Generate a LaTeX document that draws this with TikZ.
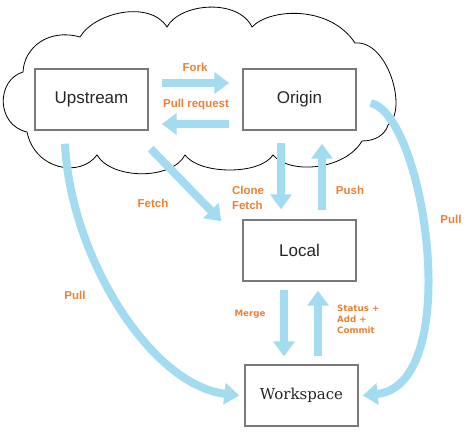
\documentclass[tikz,border=0pt]{standalone}
\usepackage{fontspec}
\setmainfont{Liberation Sans}
\newfontfamily\slabfont{DejaVu Serif}
\newfontfamily\smallfont{DejaVu Sans}
\usepackage{xcolor}
\usetikzlibrary{arrows.meta, positioning}
\definecolor{gitblue}{HTML}{A3DCF0}
\definecolor{gitorange}{HTML}{EE8033}
\definecolor{boxgray}{HTML}{7A7A7A}

\begin{document}
\begin{tikzpicture}[
    x=1pt, y=-1pt,
    repo/.style={draw=boxgray, line width=1.4pt, minimum width=113pt,
                 minimum height=61pt, inner sep=0pt, text=black!85,
                 font=\fontsize{17}{20}\selectfont},
    flow/.style={gitblue, line width=8pt,
                 -{Triangle[width=21pt, length=15pt]}},
    op/.style={text=gitorange, align=left,
               font=\fontsize{11.5}{15.5}\selectfont\bfseries},
    small op/.style={text=gitorange, align=left,
                     font=\smallfont\fontsize{8.7}{11}\selectfont\bfseries}
  ]
    \useasboundingbox (0,0) rectangle (474,439);

    % Remote cloud
    \draw[line width=0.8pt] (27,132)
      .. controls (-4,125) and (-4,80) .. (23,72)
      .. controls (24,48) and (48,28) .. (80,37)
      .. controls (95,12) and (150,0) .. (167,27)
      .. controls (180,3) and (238,-2) .. (252,27)
      .. controls (270,8) and (330,5) .. (355,43)
      .. controls (388,40) and (408,110) .. (388,125)
      .. controls (385,135) and (375,141) .. (362,141)
      .. controls (345,170) and (290,175) .. (273,155)
      .. controls (260,175) and (200,175) .. (185,155)
      .. controls (172,180) and (112,180) .. (97,155)
      .. controls (80,178) and (35,170) .. (27,132) -- cycle;

    % Repositories
    \node[repo] (upstream) at (91.5,99.5) {Upstream};
    \node[repo] (origin) at (299.5,99.5) {Origin};
    \node[repo] (local) at (299.5,250.5) {Local};
    \node[repo, font=\slabfont\fontsize{15}{18}\selectfont]
      (workspace) at (301.5,395.5) {Workspace};

    % Upstream <-> Origin
    \draw[flow, shorten <=13pt, shorten >=13pt]
      ([yshift=16.5pt]upstream.east) -- ([yshift=16.5pt]origin.west);
    \draw[flow, shorten <=13pt, shorten >=13pt]
      ([yshift=-24.5pt]origin.west) -- ([yshift=-24.5pt]upstream.east);
    \node[op] (lbl-fork) at (195,67) {Fork};
    \node[op] (lbl-pr) at (196,105) {Pull request};

    % Origin <-> Local
    \draw[flow, shorten <=12pt, shorten >=10pt]
      ([xshift=-18.5pt]origin.south) -- ([xshift=-18.5pt]local.north);
    \draw[flow, shorten <=9pt, shorten >=13pt]
      ([xshift=22.5pt]local.north) -- ([xshift=22.5pt]origin.south);
    \node[op] (lbl-clone) at (248,198) {Clone\\Fetch};
    \node[op] (lbl-push) at (350,190) {Push};

    % Upstream -> Local
    \draw[flow] ([shift={(2,18)}]upstream.south east)
      -- ([shift={(-21,2)}]local.north west);
    \node[op] (lbl-fetch) at (153,203) {Fetch};

    % Local <-> Workspace
    \draw[flow, shorten <=8pt, shorten >=8pt]
      ([xshift=-15.5pt]local.south) -- ([xshift=-17.5pt]workspace.north);
    \draw[flow, shorten <=8pt, shorten >=9pt]
      ([xshift=16.5pt]workspace.north) -- ([xshift=18.5pt]local.south);
    \node[small op] (lbl-merge) at (250,314) {Merge};
    \node[small op, anchor=west, inner sep=0pt] (lbl-commit) at (337,319)
      {Status +\\Add +\\Commit};

    % Pull into workspace
    \draw[flow] ([shift={(-26.5,13)}]upstream.south)
      .. controls (70,255) and (150,385) .. ([xshift=-5pt]workspace.west);
    \draw[flow] ([shift={(14,3.5)}]origin.east)
      .. controls (425,115) and (465,385) .. ([xshift=4pt]workspace.east);
    \node[op] (lbl-pull-l) at (75,295) {Pull};
    \node[op] (lbl-pull-r) at (451,219) {Pull};
  \end{tikzpicture}
\end{document}
